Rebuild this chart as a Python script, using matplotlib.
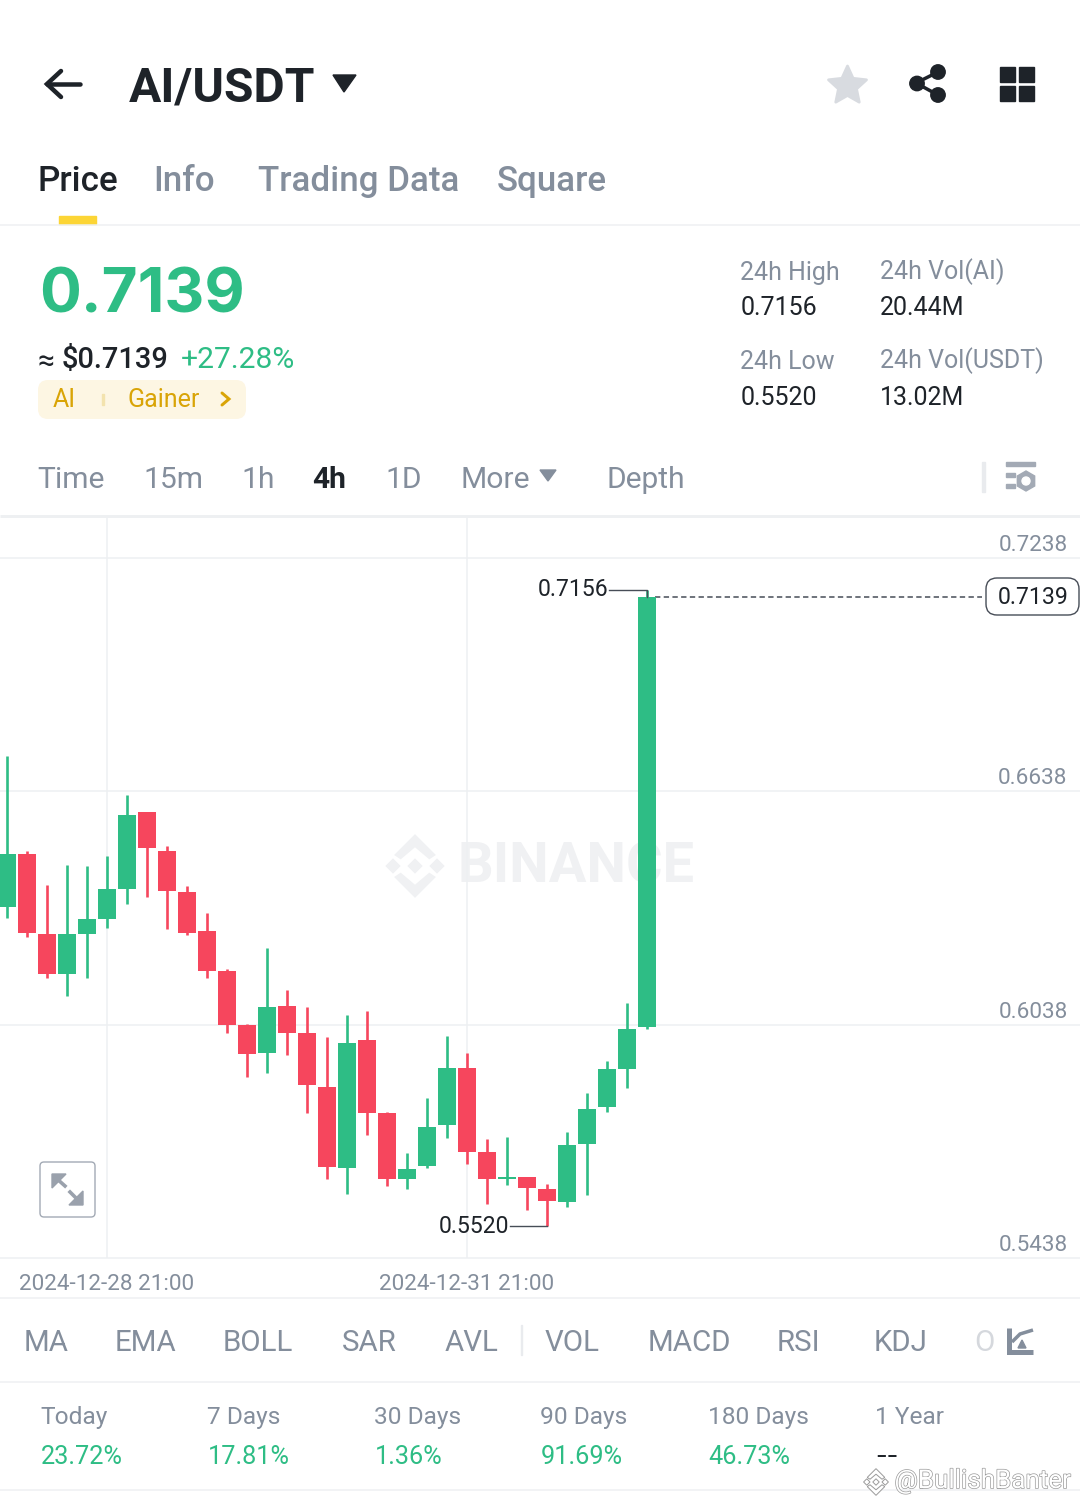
import matplotlib
matplotlib.use("Agg")
import matplotlib.pyplot as plt
import matplotlib.patheffects as pe
from matplotlib.patches import FancyBboxPatch, Polygon, Rectangle, Circle, RegularPolygon
import numpy as np

opens = [0.6341, 0.6478, 0.6271, 0.6168, 0.6270, 0.6310, 0.6387, 0.6585, 0.6484, 0.6378, 0.6278,
         0.6177, 0.6037, 0.5964, 0.6086, 0.6016, 0.5879, 0.5669, 0.5999, 0.5812, 0.5640, 0.5674,
         0.5779, 0.5927, 0.5710, 0.5642, 0.5646, 0.5615, 0.5583, 0.5732, 0.5826, 0.5924, 0.6031]
closes = [0.6478, 0.6275, 0.6168, 0.6272, 0.6309, 0.6386, 0.6578, 0.6492, 0.6381, 0.6274, 0.6175,
          0.6037, 0.5963, 0.6083, 0.6017, 0.5883, 0.5672, 0.5992, 0.5810, 0.5641, 0.5668, 0.5776,
          0.5927, 0.5711, 0.5641, 0.5647, 0.5617, 0.5585, 0.5729, 0.5821, 0.5925, 0.6026, 0.7139]
highs = [0.6730, 0.6485, 0.6397, 0.6448, 0.6447, 0.6472, 0.6628, 0.6585, 0.6497, 0.6395, 0.6325,
         0.6181, 0.6040, 0.6236, 0.6127, 0.6083, 0.6006, 0.6063, 0.6074, 0.5813, 0.5708, 0.5850,
         0.6010, 0.5965, 0.5744, 0.5750, 0.5647, 0.5628, 0.5763, 0.5863, 0.5945, 0.6094, 0.7156]
lows = [0.6312, 0.6263, 0.6157, 0.6112, 0.6157, 0.6287, 0.6348, 0.6366, 0.6285, 0.6269, 0.6158,
        0.6016, 0.5903, 0.5914, 0.5961, 0.5811, 0.5641, 0.5602, 0.5754, 0.5622, 0.5615, 0.5670,
        0.5746, 0.5681, 0.5576, 0.5627, 0.5561, 0.5520, 0.5568, 0.5601, 0.5813, 0.5876, 0.6026]
price_ticks = [0.7238, 0.6638, 0.6038, 0.5438]
date_idx = [5, 23]
date_labels = ["2024-12-28 21:00", "2024-12-31 21:00"]

tabs = [("Price", 39), ("Info", 155), ("Trading Data", 259), ("Square", 498)]
intervals = [("Time", 39), ("15m", 145), ("1h", 243), ("4h", 314), ("1D", 387), ("More", 462), ("Depth", 608)]
indicators = [("MA", 25), ("EMA", 116), ("BOLL", 224), ("SAR", 343), ("AVL", 446),
              ("VOL", 546), ("MACD", 649), ("RSI", 778), ("KDJ", 875)]
periods = ["Today", "7 Days", "30 Days", "90 Days", "180 Days", "1 Year"]
period_x = [40, 207, 374, 540, 708, 875]
period_vals = ["23.72%", "17.81%", "1.36%", "91.69%", "46.73%", "--"]
stats = [("24h High", "0.7156", 741, 272, 306), ("24h Vol(AI)", "20.44M", 880, 271, 306),
         ("24h Low", "0.5520", 741, 361, 396), ("24h Vol(USDT)", "13.02M", 880, 360, 396)]

green = "#2EBD85"
red = "#F6465D"
dark = "#1E2329"
grey = "#848E9C"
line = "#EEF0F2"
font = "Roboto"
numfont = "Inter"

fig = plt.figure(figsize=(10.8, 15.03), dpi=100, facecolor="white")

# page furniture lives on a pixel-sized axes
bg = fig.add_axes([0, 0, 1, 1])
bg.set_xlim(0, 1080)
bg.set_ylim(1503, 0)
bg.axis("off")


def txt(x, y, s, size, color=grey, ha="left", weight="normal", family=font, **kw):
    # va=center sits a little high for text without descenders
    return bg.text(x - 1.5 if ha == "left" else x, y + size * 0.08, s, fontsize=size * 0.72, color=color, ha=ha,
                   va="center", fontweight=weight, family=family, **kw)


def hline(y, lw=1.5, color=line):
    bg.plot([0, 1080], [y, y], color=color, lw=lw * 0.72, solid_capstyle="butt")


def stroke(xs, ys, lw, color=dark, cap="round"):
    bg.plot(xs, ys, color=color, lw=lw * 0.72, solid_capstyle=cap, solid_joinstyle="miter")


def logo(cx, cy, s, color, ec="none", lw=0, z=1):
    # centre and side diamonds plus top and bottom chevrons
    for dx, dy in [(0, 0), (-s * 2, 0), (s * 2, 0)]:
        r = s * 0.7
        bg.add_patch(Polygon([(cx + dx - r, cy + dy), (cx + dx, cy + dy - r), (cx + dx + r, cy + dy),
                              (cx + dx, cy + dy + r)], fc=color, ec=ec, lw=lw, zorder=z))
    for sign in [-1, 1]:
        bg.add_patch(Polygon([(cx - s * 1.9, cy + sign * s * 1.0), (cx, cy + sign * s * 2.9),
                              (cx + s * 1.9, cy + sign * s * 1.0), (cx + s * 1.3, cy + sign * s * 0.6),
                              (cx, cy + sign * s * 1.7), (cx - s * 1.3, cy + sign * s * 0.6)],
                             fc=color, ec=ec, lw=lw, zorder=z))


# top bar
stroke([47, 80], [84, 84], 4.5)
stroke([61, 47, 61], [71, 84, 97], 4.5)
txt(130, 85, "AI/USDT", 48, dark, weight="bold")
bg.add_patch(Polygon([(333, 75), (356, 75), (344, 92)], color=dark))
star_a = np.linspace(-np.pi / 2, 1.5 * np.pi, 11)[:-1]
star_r = np.array([20, 9.5] * 5)
bg.add_patch(Polygon(np.c_[847.5 + star_r * np.cos(star_a), 86 + star_r * np.sin(star_a)],
                     fc="#D8DBE0", ec="#D8DBE0", lw=2, joinstyle="round"))
stroke([938, 916, 938], [72, 83, 95], 3.5)
for cx, cy in [(917, 83.5), (938, 72), (938, 95)]:
    bg.add_patch(Circle((cx, cy), 7.2, color=dark))
for gx in [1000, 1019]:
    for gy in [67, 86]:
        bg.add_patch(Rectangle((gx, gy), 15, 15, color=dark))

# tabs
for i, (name, x) in enumerate(tabs):
    txt(x, 179, name, 35, dark if i == 0 else grey, weight="medium")
bg.add_patch(Rectangle((59, 216), 37, 8, color="#FCD535"))
hline(224.5)

# price header
txt(41, 292, "0.7139", 62, green, weight="bold", family=numfont)
txt(39, 360, "≈", 30, dark)
txt(63, 358, "$0.7139", 29, dark, weight="medium")
txt(182, 358, "+27.28%", 30, green)
bg.add_patch(FancyBboxPatch((46, 388), 192, 23, boxstyle="round,pad=8,rounding_size=10", fc="#FDF6E3", ec="none"))
txt(54, 398, "AI", 25, "#D9A406")
bg.add_patch(Rectangle((102, 394), 2, 11, color="#F3E3AE"))
txt(129, 398, "Gainer", 25, "#D9A406")
stroke([222, 229, 222], [393, 399, 405], 3, "#D9A406")
for lab, val, x, y1, y2 in stats:
    txt(x + 1, y1 - 1, lab, 25)
    txt(x + 1, y2, val, 25, dark)

# interval row
for name, x in intervals:
    active = name == "4h"
    txt(x, 478, name, 30, dark if active else grey, weight="bold" if active else "normal")
bg.add_patch(Polygon([(540, 470), (556, 470), (548, 481)], color=grey))
bg.add_patch(Rectangle((982, 462), 2.5, 30, color="#E9EBEE"))
bg.add_patch(Rectangle((1006, 462), 29, 4, color="#A3AAB5"))
bg.add_patch(Rectangle((1006, 473), 9, 4, color="#A3AAB5"))
bg.add_patch(Rectangle((1006, 484), 9, 4, color="#A3AAB5"))
bg.add_patch(RegularPolygon((1026, 481), 6, radius=10, color="#A3AAB5"))
bg.add_patch(Circle((1026, 481), 4, color="white"))
hline(516, 3)

# BINANCE watermark under the candles
wm = "#F0F1F3"
logo(415, 866, 11, wm)
txt(459, 863, "BINANCE", 56, wm, weight="bold")

# candles
ch = fig.add_axes([0, (1503 - 1258) / 1503, 1, (1258 - 516) / 1503], zorder=3)
ch.patch.set_visible(False)
ch.set_xlim(-0.35, 53.65)
ch.set_ylim(0.5438, 0.7238 + 42 * 0.06 / 233.33)
ch.axis("off")

idx = np.arange(len(opens))
colors = [green if c >= o else red for o, c in zip(opens, closes)]
for p in price_ticks:
    ch.axhline(p, color=line, lw=1.1, zorder=1, clip_on=False)
for d in date_idx:
    ch.axvline(d, color=line, lw=1.1, zorder=1)
ch.vlines(idx, lows, highs, colors=colors, lw=1.9, zorder=2)
ch.bar(idx, np.abs(np.array(closes) - np.array(opens)), bottom=np.minimum(opens, closes),
       width=0.87, color=colors, zorder=3)

for p in price_ticks:
    ch.annotate(f"{p:.4f}", xy=(1, p), xycoords=("axes fraction", "data"), xytext=(-12.5 * 0.72, 2 * 0.72),
                textcoords="offset points", ha="right", va="bottom", fontsize=22.5 * 0.72, color=grey, family=font)

# high / low callouts
hi_i = int(np.argmax(highs))
lo_i = int(np.argmin(lows))
ch.plot([hi_i - 1.9, hi_i, hi_i], [highs[hi_i], highs[hi_i], closes[hi_i]], color="#474D57", lw=1, zorder=4)
ch.text(hi_i - 1.95, highs[hi_i] + 0.0001, f"{highs[hi_i]:.4f}", ha="right", va="center", fontsize=23 * 0.72,
        color=dark, family=font)
ch.plot([lo_i - 1.85, lo_i], [lows[lo_i], lows[lo_i]], color="#474D57", lw=1, zorder=4)
ch.text(lo_i - 1.9, lows[lo_i] - 0.0001, f"{lows[lo_i]:.4f}", ha="right", va="center", fontsize=23 * 0.72,
        color=dark, family=font)

# last price line and tag
ch.plot([32.4, 48.75], [closes[-1], closes[-1]], color="#474D57", lw=1.1, ls=(0, (3.5, 2.2)), zorder=2)
bg.add_patch(FancyBboxPatch((994, 586), 77, 21, boxstyle="round,pad=8,rounding_size=11", fc="white",
                            ec="#474D57", lw=1, zorder=5))
txt(1033, 596, f"{closes[-1]:.4f}", 23, dark, ha="center", zorder=6)

# expand button
bg.add_patch(FancyBboxPatch((44, 1166), 47, 47, boxstyle="round,pad=4,rounding_size=4", fc="white",
                            ec="#A3AAB5", lw=1, zorder=5))
bg.add_patch(Polygon([(52, 1174), (66, 1174), (52, 1188)], color="#9AA1AC", zorder=6))
bg.add_patch(Polygon([(83, 1205), (69, 1205), (83, 1191)], color="#9AA1AC", zorder=6))
bg.plot([56, 65], [1178, 1186], color="#9AA1AC", lw=2.6, zorder=6)
bg.plot([70, 79], [1192, 1201], color="#9AA1AC", lw=2.6, zorder=6)

# dates
for d, lab in zip(date_idx, date_labels):
    ch.annotate(lab, xy=(d, 0.5438), xytext=(0, -26 * 0.72), textcoords="offset points", ha="center", va="center",
                fontsize=22.5 * 0.72, color=grey, family=font, annotation_clip=False)
hline(1298)

# indicator row
for name, x in indicators:
    txt(x, 1341, name, 29.5)
txt(976, 1341, "O", 29.5, "#D5D8DD")
bg.add_patch(Rectangle((520.5, 1325), 1, 30, color="#E9EBEE"))
stroke([1009, 1009, 1033], [1328, 1352, 1352], 5, grey, cap="butt")
stroke([1012, 1020, 1033], [1342, 1334, 1330], 3.5, grey, cap="butt")
bg.add_patch(Polygon([(1018, 1348), (1026, 1348), (1022, 1340)], color=grey))
hline(1382)

# period returns
for lab, x, val in zip(periods, period_x, period_vals):
    txt(x + 1.5, 1415.5, lab, 24.5)
    txt(x + 2, 1455, val, 25.3, dark if val == "--" else green, family=numfont if val == "--" else font)
hline(1489.5)

# corner watermark
edge = [pe.withStroke(linewidth=1, foreground="#9A9A9A")]
logo(876, 1482, 4.6, "white", ec="#9A9A9A", lw=0.7, z=7)
txt(896, 1479, "@BullishBanter", 26, "white", path_effects=edge, zorder=7)

fig.savefig("out.png", dpi=100)
